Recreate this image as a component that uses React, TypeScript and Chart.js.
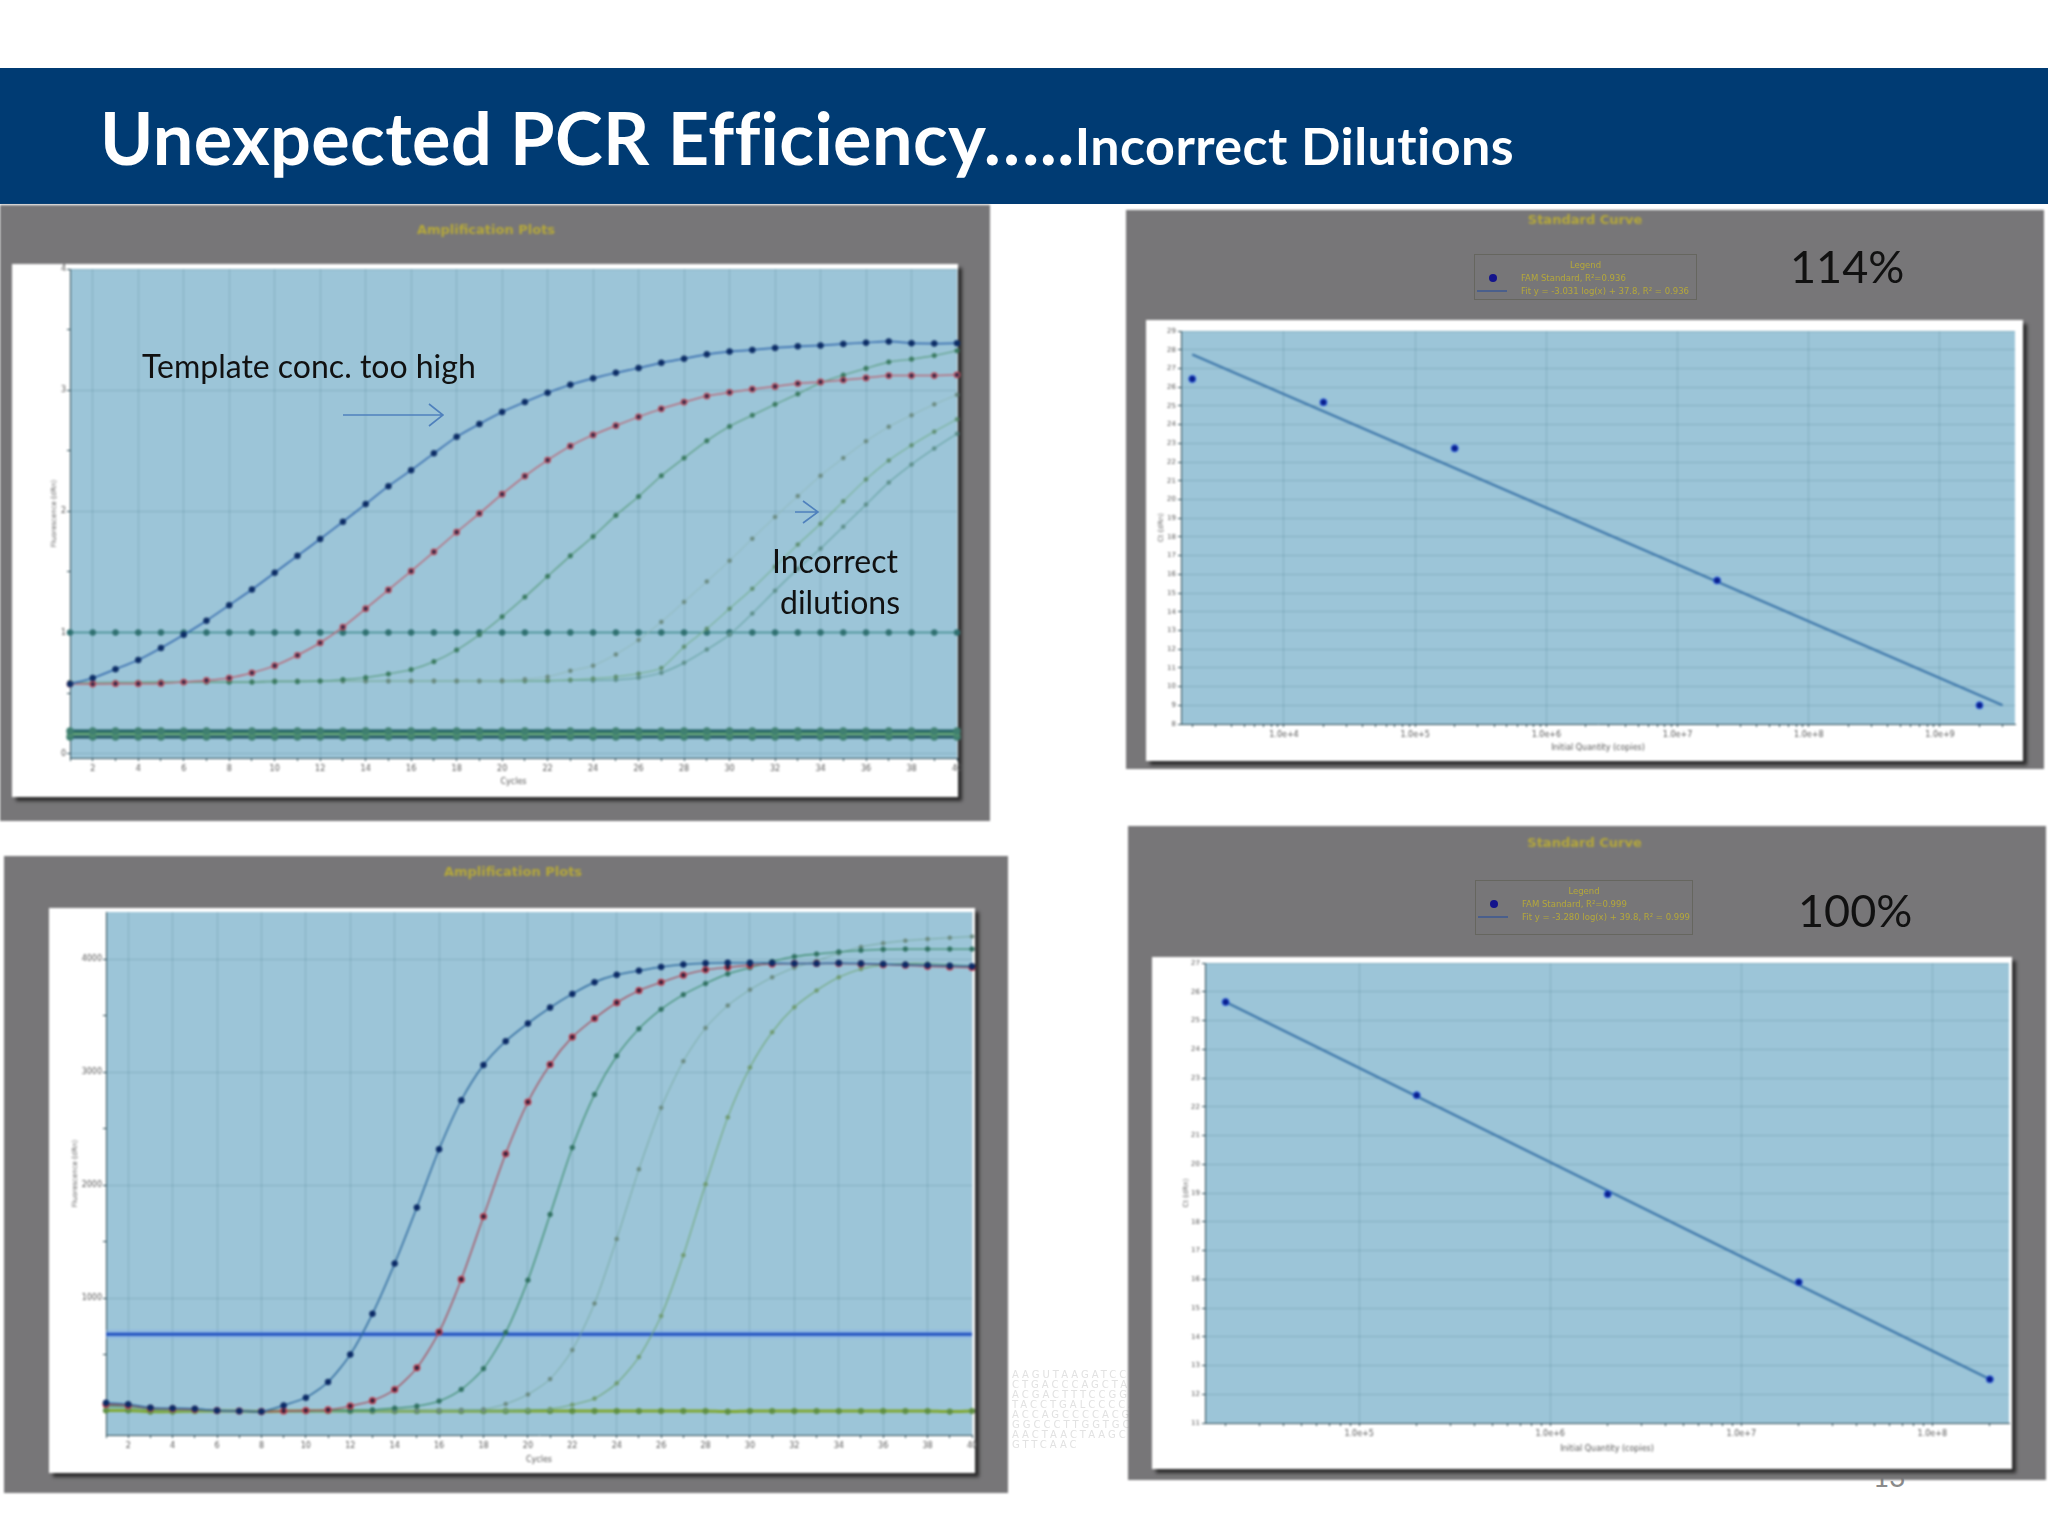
import { useEffect, useRef } from "react";
import { Chart, registerables } from "chart.js";

Chart.register(...registerables);

const cycles = [1, 2, 3, 4, 5, 6, 7, 8, 9, 10, 11, 12, 13, 14, 15, 16, 17, 18, 19, 20, 21, 22, 23, 24, 25, 26, 27, 28, 29, 30, 31, 32, 33, 34, 35, 36, 37, 38, 39, 40];

// top left amplification plot
const highBlue = [0.575, 0.625, 0.698, 0.774, 0.873, 0.982, 1.098, 1.226, 1.355, 1.494, 1.633, 1.772, 1.914, 2.06, 2.208, 2.34, 2.479, 2.615, 2.721, 2.82, 2.902, 2.979, 3.045, 3.098, 3.144, 3.183, 3.226, 3.26, 3.296, 3.319, 3.332, 3.349, 3.362, 3.369, 3.382, 3.392, 3.402, 3.388, 3.385, 3.388];
const highRed = [0.575, 0.575, 0.578, 0.578, 0.58, 0.592, 0.605, 0.625, 0.668, 0.727, 0.813, 0.916, 1.045, 1.197, 1.352, 1.507, 1.666, 1.828, 1.983, 2.142, 2.291, 2.423, 2.539, 2.631, 2.707, 2.78, 2.846, 2.902, 2.952, 2.982, 3.008, 3.031, 3.055, 3.068, 3.084, 3.101, 3.121, 3.121, 3.121, 3.127];
const highGreen = [0.585, 0.58, 0.585, 0.585, 0.59, 0.59, 0.59, 0.59, 0.59, 0.595, 0.595, 0.6, 0.612, 0.628, 0.658, 0.694, 0.76, 0.856, 0.982, 1.131, 1.293, 1.464, 1.633, 1.792, 1.967, 2.122, 2.294, 2.44, 2.582, 2.701, 2.793, 2.883, 2.969, 3.061, 3.124, 3.18, 3.233, 3.256, 3.286, 3.326];
const highGrey = [0.59, 0.59, 0.59, 0.59, 0.595, 0.595, 0.595, 0.595, 0.595, 0.6, 0.6, 0.6, 0.6, 0.6, 0.6, 0.6, 0.6, 0.6, 0.6, 0.605, 0.615, 0.635, 0.684, 0.727, 0.82, 0.939, 1.088, 1.253, 1.421, 1.593, 1.775, 1.954, 2.126, 2.294, 2.44, 2.579, 2.698, 2.793, 2.883, 2.962];
const highSage = [0.59, 0.59, 0.59, 0.59, 0.595, 0.595, 0.595, 0.595, 0.595, 0.6, 0.6, 0.6, 0.6, 0.6, 0.6, 0.6, 0.6, 0.6, 0.6, 0.6, 0.6, 0.605, 0.61, 0.62, 0.635, 0.661, 0.707, 0.883, 1.031, 1.197, 1.362, 1.544, 1.726, 1.898, 2.083, 2.264, 2.42, 2.545, 2.658, 2.76];
const highTeal = [0.59, 0.59, 0.59, 0.59, 0.595, 0.595, 0.595, 0.595, 0.595, 0.6, 0.6, 0.6, 0.6, 0.6, 0.6, 0.6, 0.6, 0.6, 0.6, 0.6, 0.6, 0.6, 0.605, 0.605, 0.61, 0.628, 0.668, 0.75, 0.86, 0.982, 1.157, 1.345, 1.527, 1.693, 1.874, 2.056, 2.238, 2.387, 2.519, 2.641];
const highFlat = [1, 1, 1, 1, 1, 1, 1, 1, 1, 1, 1, 1, 1, 1, 1, 1, 1, 1, 1, 1, 1, 1, 1, 1, 1, 1, 1, 1, 1, 1, 1, 1, 1, 1, 1, 1, 1, 1, 1, 1];
const highBaseA = [0.188, 0.188, 0.188, 0.188, 0.188, 0.188, 0.188, 0.188, 0.188, 0.188, 0.188, 0.188, 0.188, 0.188, 0.188, 0.188, 0.188, 0.188, 0.188, 0.188, 0.188, 0.188, 0.188, 0.188, 0.188, 0.188, 0.188, 0.188, 0.188, 0.188, 0.188, 0.188, 0.188, 0.188, 0.188, 0.188, 0.188, 0.188, 0.188, 0.188];
const highBaseB = [0.165, 0.165, 0.165, 0.165, 0.165, 0.165, 0.165, 0.165, 0.165, 0.165, 0.165, 0.165, 0.165, 0.165, 0.165, 0.165, 0.165, 0.165, 0.165, 0.165, 0.165, 0.165, 0.165, 0.165, 0.165, 0.165, 0.165, 0.165, 0.165, 0.165, 0.165, 0.165, 0.165, 0.165, 0.165, 0.165, 0.165, 0.165, 0.165, 0.165];
const highBaseC = [0.139, 0.139, 0.139, 0.139, 0.139, 0.139, 0.139, 0.139, 0.139, 0.139, 0.139, 0.139, 0.139, 0.139, 0.139, 0.139, 0.139, 0.139, 0.139, 0.139, 0.139, 0.139, 0.139, 0.139, 0.139, 0.139, 0.139, 0.139, 0.139, 0.139, 0.139, 0.139, 0.139, 0.139, 0.139, 0.139, 0.139, 0.139, 0.139, 0.139];
const highTicks = [0, 0.5, 1, 1.5, 2, 2.5, 3, 3.5, 4];
const highLabels = [0, 1, 2, 3, 4];

// bottom left amplification plot
const goodBlue = [73, 60, 30, 25, 20, 5, 0, -5, 50, 118, 257, 500, 860, 1305, 1801, 2316, 2750, 3062, 3272, 3430, 3570, 3691, 3794, 3860, 3897, 3930, 3952, 3963, 3967, 3967, 3965, 3960, 3960, 3965, 3960, 3955, 3950, 3945, 3940, 3935];
const goodRed = [60, 50, 25, 20, 15, 5, 0, -5, 0, 5, 10, 44, 92, 191, 382, 699, 1165, 1721, 2276, 2735, 3066, 3309, 3474, 3614, 3721, 3794, 3857, 3904, 3926, 3945, 3955, 3960, 3960, 3960, 3955, 3950, 3945, 3935, 3930, 3925];
const goodGreen = [50, 45, 20, 15, 10, 5, 0, -5, 0, 0, 5, 5, 10, 25, 44, 88, 191, 375, 695, 1158, 1739, 2331, 2801, 3143, 3382, 3555, 3684, 3783, 3868, 3923, 3978, 4022, 4044, 4063, 4077, 4085, 4088, 4088, 4088, 4088];
const goodGrey = [40, 35, 15, 10, 10, 5, 0, -5, 0, 0, 0, 0, 5, 5, 5, 5, 10, 15, 62, 147, 283, 540, 952, 1522, 2140, 2684, 3096, 3390, 3588, 3728, 3838, 3923, 3985, 4051, 4107, 4140, 4162, 4176, 4188, 4199];
const goodSage = [35, 30, 10, 5, 5, 0, 0, -5, 0, 0, 0, 0, 0, 5, 5, 5, 5, 5, 5, 10, 18, 55, 110, 246, 478, 842, 1379, 2007, 2599, 3040, 3353, 3574, 3721, 3838, 3912, 3948, 3960, 3960, 3950, 3941];
const goodFlat = [5, 5, -5, -5, 0, 0, 0, -5, 0, 0, 0, 0, 0, 0, 0, 0, 0, 0, 0, 0, 0, 0, 0, 0, 0, 0, 0, 0, -5, 0, 0, 0, 0, 0, 0, 0, 0, 0, -5, 0];
const goodThreshold = [680, 680, 680, 680, 680, 680, 680, 680, 680, 680, 680, 680, 680, 680, 680, 680, 680, 680, 680, 680, 680, 680, 680, 680, 680, 680, 680, 680, 680, 680, 680, 680, 680, 680, 680, 680, 680, 680, 680, 680];
const goodTicks = [0, 500, 1000, 1500, 2000, 2500, 3000, 3500, 4000];
const goodLabels = [1000, 2000, 3000, 4000];

// standard curves
const curveHighX = [2e3, 2e4, 2e5, 2e7, 2e9];
const curveHighY = [26.44, 25.19, 22.73, 15.67, 9.0];
const fitHighX = [2e3, 3e9];
const fitHighY = [27.75, 9.0];
const curveHighTicks = [8, 9, 10, 11, 12, 13, 14, 15, 16, 17, 18, 19, 20, 21, 22, 23, 24, 25, 26, 27, 28, 29];
const curveHighDecades = [1e4, 1e5, 1e6, 1e7, 1e8, 1e9];

const curveGoodX = [2e4, 2e5, 2e6, 2e7, 2e8];
const curveGoodY = [25.64, 22.4, 18.96, 15.9, 12.52];
const fitGoodX = [2e4, 2e8];
const fitGoodY = [25.64, 12.52];
const curveGoodTicks = [11, 12, 13, 14, 15, 16, 17, 18, 19, 20, 21, 22, 23, 24, 25, 26, 27];
const curveGoodDecades = [1e5, 1e6, 1e7, 1e8];

const dnaRows = ["AAGUTAAGATCCC", "CTGACCCAGCTAC", "ACGACTTTCCGGA", "TACCTGALCCCCA", "ACCAGCCCCACGC", "GGCCCTTGGTGCC", "AACTAACTAAGC", "GTTCAAC"];

const PANEL_GREY = "#777678";
const PLOT_BLUE = "#9cc5d8";
const AXIS_DARK = "#2b4a55";
const GRID_LINE = "rgba(60,105,120,0.24)";
const TICK_TEXT = "#555555";
const TITLE_YELLOW = "#b5a83a";

type Box = [number, number, number, number];

// paints the grey slide panel, white card and blue plot behind the chart
const framePlugin = {
    id: "frame",
    beforeDraw(chart: any, _args: any, opts: any) {
        const { ctx, chartArea } = chart;
        const [cl, ct] = opts.canvas;
        const [pl, pt, pr, pb] = opts.panel;
        const [wl, wt, wr, wb] = opts.white;
        ctx.save();
        ctx.fillStyle = PANEL_GREY;
        ctx.fillRect(pl - cl, pt - ct, pr - pl, pb - pt);
        ctx.shadowColor = "#2c2c2c";
        ctx.shadowOffsetX = 4;
        ctx.shadowOffsetY = 4;
        ctx.shadowBlur = 3;
        ctx.fillStyle = "#ffffff";
        ctx.fillRect(wl - cl, wt - ct, wr - wl, wb - wt);
        ctx.shadowColor = "transparent";
        ctx.fillStyle = PLOT_BLUE;
        ctx.fillRect(chartArea.left, chartArea.top, chartArea.width, chartArea.height);
        ctx.restore();
    },
};

function layoutFor(canvas: Box, plot: Box, axisLeft: number, axisBottom: number) {
    return {
        padding: {
            left: axisLeft - canvas[0],
            right: canvas[2] - plot[2],
            top: 0,
            bottom: canvas[3] - axisBottom,
        },
    };
}

function curve(values: number[], line: string, dot: string, radius: number, width = 1.6, edge?: string) {
    return {
        data: values,
        borderColor: line,
        borderWidth: width,
        pointBackgroundColor: dot,
        pointBorderColor: edge || dot,
        pointBorderWidth: edge ? 1.5 : 0.5,
        pointRadius: radius,
        tension: 0.25,
        clip: false as const,
    };
}

function ampConfig(o: any) {
    return {
        type: "line",
        data: { labels: cycles, datasets: o.datasets },
        options: {
            animation: false,
            responsive: false,
            layout: layoutFor(o.canvas, o.plot, o.axisLeft, o.axisBottom),
            plugins: {
                legend: { display: false },
                tooltip: { enabled: false },
                title: {
                    display: true,
                    text: "Amplification Plots",
                    color: TITLE_YELLOW,
                    font: { size: 13, family: "DejaVu Sans", weight: "bold" },
                    padding: o.titlePad,
                },
                frame: { canvas: o.canvas, panel: o.panel, white: o.white },
            },
            scales: {
                x: {
                    grid: {
                        color: (c: any) => (c.index % 2 === 1 ? GRID_LINE : "transparent"),
                        tickColor: AXIS_DARK,
                        tickLength: 3,
                    },
                    border: { color: AXIS_DARK, width: 1 },
                    ticks: {
                        autoSkip: false,
                        maxRotation: 0,
                        padding: 3,
                        color: TICK_TEXT,
                        font: { size: 8, family: "DejaVu Sans" },
                        callback: (_v: any, i: number) => (cycles[i] % 2 === 0 ? String(cycles[i]) : ""),
                    },
                    title: { display: true, text: "Cycles", color: TICK_TEXT, font: { size: 8, family: "DejaVu Sans" }, padding: 0 },
                    afterFit: (s: any) => { s.height = o.axisBottom - o.plot[3]; },
                },
                y: {
                    min: o.yMin,
                    max: o.yMax,
                    afterBuildTicks: (s: any) => { s.ticks = o.yTicks.map((v: number) => ({ value: v })); },
                    grid: {
                        color: (c: any) => (o.yLabels.includes(c.tick?.value) ? GRID_LINE : "transparent"),
                        tickColor: AXIS_DARK,
                        tickLength: 3,
                    },
                    border: { color: AXIS_DARK, width: 1 },
                    ticks: {
                        autoSkip: false,
                        padding: 1,
                        color: TICK_TEXT,
                        font: { size: 8, family: "DejaVu Sans" },
                        callback: (v: number) => (o.yLabels.includes(v) ? String(v) : ""),
                    },
                    title: { display: true, text: "Fluorescence (dRn)", color: TICK_TEXT, font: { size: 7, family: "DejaVu Sans" }, padding: { top: o.yTitleTop, bottom: 0 } },
                    afterFit: (s: any) => { s.width = o.plot[0] - o.axisLeft; },
                },
            },
        },
    };
}

function curveConfig(o: any) {
    const pts = o.xs.map((x: number, i: number) => ({ x, y: o.ys[i] }));
    const fit = o.fitX.map((x: number, i: number) => ({ x, y: o.fitY[i] }));
    return {
        type: "scatter",
        data: {
            datasets: [
                { data: pts, showLine: false, pointRadius: 3.5, pointBackgroundColor: "#0a1f8c", pointBorderColor: "#2f63e8", pointBorderWidth: 1 },
                { data: fit, showLine: true, pointRadius: 0, borderColor: "#3a74a8", borderWidth: 2.2 },
            ],
        },
        options: {
            animation: false,
            responsive: false,
            layout: layoutFor(o.canvas, o.plot, o.axisLeft, o.axisBottom),
            plugins: {
                legend: { display: false },
                tooltip: { enabled: false },
                title: {
                    display: true,
                    text: "Standard Curve",
                    color: TITLE_YELLOW,
                    font: { size: 13, family: "DejaVu Sans", weight: "bold" },
                    padding: o.titlePad,
                },
                frame: { canvas: o.canvas, panel: o.panel, white: o.white },
            },
            scales: {
                x: {
                    type: "logarithmic",
                    min: o.xMin,
                    max: o.xMax,
                    afterBuildTicks: (s: any) => {
                        const list: any[] = [];
                        for (let e = Math.floor(Math.log10(s.min)); e <= Math.ceil(Math.log10(s.max)); e++) {
                            for (let m = 1; m < 10; m++) {
                                const v = m * 10 ** e;
                                if (v >= s.min && v <= s.max) list.push({ value: v });
                            }
                        }
                        s.ticks = list;
                    },
                    grid: {
                        color: (c: any) => (o.decades.includes(c.tick?.value) ? GRID_LINE : "transparent"),
                        tickColor: AXIS_DARK,
                        tickLength: 3,
                    },
                    border: { color: AXIS_DARK, width: 1 },
                    ticks: {
                        autoSkip: false,
                        maxRotation: 0,
                        padding: 3,
                        color: TICK_TEXT,
                        font: { size: 8, family: "DejaVu Sans" },
                        callback: (v: number) => (o.decades.includes(v) ? `1.0e+${Math.round(Math.log10(v))}` : ""),
                    },
                    title: { display: true, text: "Initial Quantity (copies)", color: TICK_TEXT, font: { size: 8, family: "DejaVu Sans" }, padding: 0 },
                    afterFit: (s: any) => { s.height = o.axisBottom - o.plot[3]; },
                },
                y: {
                    min: o.yMin,
                    max: o.yMax,
                    afterBuildTicks: (s: any) => { s.ticks = o.yTicks.map((v: number) => ({ value: v })); },
                    grid: { color: GRID_LINE, tickColor: AXIS_DARK, tickLength: 3 },
                    border: { color: AXIS_DARK, width: 1 },
                    ticks: {
                        autoSkip: false,
                        padding: 2,
                        color: TICK_TEXT,
                        font: { size: 7, family: "DejaVu Sans" },
                    },
                    title: { display: true, text: "Ct (dRn)", color: TICK_TEXT, font: { size: 7, family: "DejaVu Sans" }, padding: { top: o.yTitleTop, bottom: 0 } },
                    afterFit: (s: any) => { s.width = o.plot[0] - o.axisLeft; },
                },
            },
        },
    };
}

const topLeft = ampConfig({
    canvas: [-18, 205, 990, 821] as Box,
    panel: [0, 205, 990, 821] as Box,
    white: [12, 264, 958, 797] as Box,
    plot: [70, 269, 957, 758] as Box,
    axisLeft: 15,
    axisBottom: 787,
    yTitleTop: 35,
    titlePad: { top: 18, bottom: 30.4 },
    yMin: -0.035,
    yMax: 4,
    yTicks: highTicks,
    yLabels: highLabels,
    datasets: [
        curve(highBlue, "#3a6fb0", "#0c2d66", 3, 1.7),
        curve(highRed, "#b96a7a", "#1b2a4a", 2.6, 1.5, "#c04a5a"),
        curve(highGreen, "#63a38c", "#3a7a60", 2.3, 1.4),
        curve(highGrey, "#8fb8b8", "#6a8a80", 2, 1),
        curve(highSage, "#7ab39a", "#5f8f72", 2, 1.2),
        curve(highTeal, "#6aa5a5", "#5d8f8a", 2, 1.2),
        curve(highFlat, "#3e8a8c", "#2f7070", 3, 1.6),
        curve(highBaseA, "#1f5f60", "#3f7f70", 3.5, 3),
        curve(highBaseB, "#5fa070", "#4f8f70", 3, 3),
        curve(highBaseC, "#1f5560", "#3f7f70", 3.5, 3),
    ],
});

const bottomLeft = ampConfig({
    canvas: [4, 856, 1022, 1493] as Box,
    panel: [4, 856, 1008, 1493] as Box,
    white: [49, 908, 975, 1473] as Box,
    plot: [106, 912, 972, 1435] as Box,
    axisLeft: 54,
    axisBottom: 1465,
    yTitleTop: 17,
    titlePad: { top: 9, bottom: 31.4 },
    yMin: -212,
    yMax: 4416,
    yTicks: goodTicks,
    yLabels: goodLabels,
    datasets: [
        curve(goodBlue, "#2f6a9f", "#0b2a66", 3, 1.5),
        curve(goodRed, "#a8505f", "#1c2440", 2.8, 1.4, "#c83a4a"),
        curve(goodGreen, "#3f8f70", "#2f7060", 2.4, 1.3),
        curve(goodGrey, "#78aaa0", "#6a8a80", 2, 1),
        curve(goodSage, "#70a878", "#6f9a70", 2, 1.1),
        curve(goodFlat, "#7fa830", "#5f8f40", 2.8, 3),
        { data: goodThreshold, borderColor: "#1f4fc0", borderWidth: 3, pointRadius: 0 },
        { data: goodThreshold, borderColor: "rgba(130,170,240,0.4)", borderWidth: 9, pointRadius: 0 },
    ],
});

const topRight = curveConfig({
    canvas: [1126, 210, 2048, 769] as Box,
    panel: [1126, 210, 2044, 769] as Box,
    white: [1146, 320, 2023, 761] as Box,
    plot: [1181, 331, 2015, 724] as Box,
    axisLeft: 1155,
    axisBottom: 753,
    yTitleTop: 2,
    titlePad: { top: 3, bottom: 102.4 },
    xMin: 1641,
    xMax: 3.73e9,
    yMin: 8,
    yMax: 29,
    yTicks: curveHighTicks,
    decades: curveHighDecades,
    xs: curveHighX,
    ys: curveHighY,
    fitX: fitHighX,
    fitY: fitHighY,
});

const bottomRight = curveConfig({
    canvas: [1128, 826, 2048, 1480] as Box,
    panel: [1128, 826, 2046, 1480] as Box,
    white: [1152, 957, 2012, 1469] as Box,
    plot: [1205, 963, 2009, 1423] as Box,
    axisLeft: 1160,
    axisBottom: 1454,
    yTitleTop: 22,
    titlePad: { top: 10, bottom: 111.4 },
    xMin: 1.56e4,
    xMax: 2.52e8,
    yMin: 11,
    yMax: 27,
    yTicks: curveGoodTicks,
    decades: curveGoodDecades,
    xs: curveGoodX,
    ys: curveGoodY,
    fitX: fitGoodX,
    fitY: fitGoodY,
});

function PlotCanvas({ box, config }: { box: Box; config: any }) {
    const ref = useRef<HTMLCanvasElement>(null);

    useEffect(() => {
        if (!ref.current) return;
        const chart = new Chart(ref.current, { ...config, plugins: [framePlugin] });
        return () => chart.destroy();
    }, []);

    return (
        <canvas
            ref={ref}
            width={box[2] - box[0]}
            height={box[3] - box[1]}
            style={{ position: "absolute", left: box[0], top: box[1], width: box[2] - box[0], height: box[3] - box[1], filter: "blur(0.9px)" }}
        />
    );
}

function Note({ x, y, size, children }: { x: number; y: number; size: number; children: any }) {
    return (
        <div style={{ position: "absolute", left: x, top: y, transform: "translateY(-50%)", fontFamily: "Lato", fontSize: size, color: "#111", whiteSpace: "nowrap", lineHeight: 1, fontVariantLigatures: "none" }}>
            {children}
        </div>
    );
}

function FitLegend({ box, head, std, fit }: { box: Box; head: string; std: string; fit: string }) {
    return (
        <div style={{ position: "absolute", left: box[0], top: box[1], width: box[2] - box[0], height: box[3] - box[1], border: "1px solid #66665f", boxSizing: "border-box", fontFamily: "DejaVu Sans", fontSize: 8.5, color: "#b5a83a", filter: "blur(0.7px)" }}>
            <div style={{ textAlign: "center", marginTop: 5, lineHeight: "11px" }}>{head}</div>
            <div style={{ position: "absolute", left: 14, top: 19, width: 8, height: 8, borderRadius: 4, background: "#14148c" }} />
            <div style={{ position: "absolute", left: 2, top: 35, width: 30, height: 2, background: "#4a5f8c" }} />
            <div style={{ position: "absolute", left: 46, top: 18, whiteSpace: "nowrap", lineHeight: "11px" }}>{std}</div>
            <div style={{ position: "absolute", left: 46, top: 31, whiteSpace: "nowrap", lineHeight: "11px" }}>{fit}</div>
        </div>
    );
}

export default function App() {
    return (
        <div style={{ position: "absolute", left: 0, top: 0, width: 2048, height: 1536, background: "#fff", overflow: "hidden" }}>
            <div style={{ position: "absolute", left: 0, top: 68, width: 2048, height: 136, background: "#003b73" }} />
            <div style={{ position: "absolute", left: 100, top: 137, transform: "translateY(-50%)", color: "#fff", fontFamily: "Lato", fontWeight: 700, whiteSpace: "nowrap", lineHeight: 1, fontVariantLigatures: "none" }}>
                <span style={{ fontSize: 72, letterSpacing: 0.4 }}>Unexpected PCR Efficiency…..</span>
                <span style={{ fontSize: 52, letterSpacing: 0.45 }}>Incorrect Dilutions</span>
            </div>

            <div style={{ position: "absolute", left: 1012, top: 1370, fontFamily: "DejaVu Sans", fontSize: 10, lineHeight: "10px", letterSpacing: 3, color: "#e2e2e2", whiteSpace: "nowrap", filter: "blur(0.5px)" }}>
                {dnaRows.map((r) => <div key={r}>{r}</div>)}
            </div>
            <div style={{ position: "absolute", left: 1873, top: 1462, fontFamily: "Lato", fontSize: 28, lineHeight: 1, color: "#8a8a8a" }}>13</div>

            <PlotCanvas box={[-18, 205, 990, 821]} config={topLeft} />
            <PlotCanvas box={[4, 856, 1022, 1493]} config={bottomLeft} />
            <PlotCanvas box={[1126, 210, 2048, 769]} config={topRight} />
            <PlotCanvas box={[1128, 826, 2048, 1480]} config={bottomRight} />

            <FitLegend box={[1474, 254, 1697, 300]} head="Legend" std="FAM Standard, R²=0.936" fit="Fit y = -3.031 log(x) + 37.8, R² = 0.936" />
            <FitLegend box={[1475, 880, 1693, 935]} head="Legend" std="FAM Standard, R²=0.999" fit="Fit y = -3.280 log(x) + 39.8, R² = 0.999" />

            <Note x={142} y={366} size={32}>Template conc. too high</Note>
            <Note x={772} y={561} size={32}>Incorrect</Note>
            <Note x={780} y={602} size={32}>dilutions</Note>
            <Note x={1790} y={266} size={45}>114%</Note>
            <Note x={1798} y={910} size={45}>100%</Note>

            <svg width={2048} height={1536} style={{ position: "absolute", left: 0, top: 0, pointerEvents: "none" }}>
                <g fill="none" stroke="#4f81bd" strokeWidth={1.6}>
                    <path d="M343 415 H443 M429 404 L443 415 L429 426" />
                    <path d="M795 512 H818 M803 501 L818 512 L803 523" />
                </g>
            </svg>
        </div>
    );
}
